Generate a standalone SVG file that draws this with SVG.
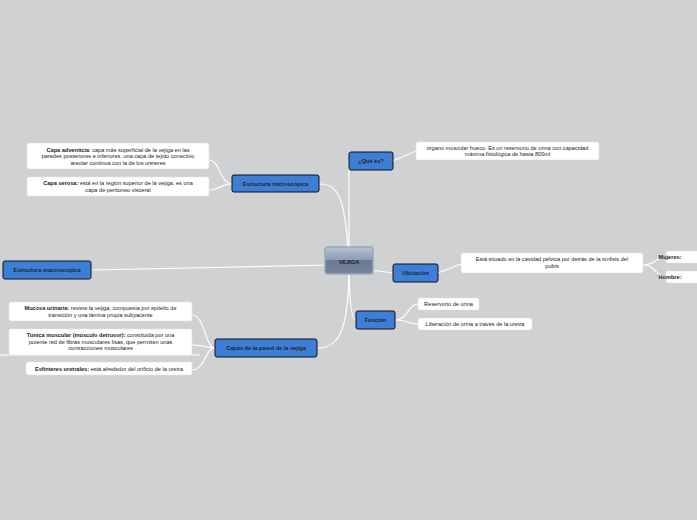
<svg xmlns="http://www.w3.org/2000/svg" width="697" height="520" viewBox="0 0 697 520">
<style>
.t{font-family:"Liberation Sans",Arial,sans-serif;font-size:5.6px;fill:#222;text-anchor:middle}
.b{font-weight:bold}
.tp{fill:#3d7fd6;stroke:#111;stroke-width:1}
.lf{fill:#fff;stroke:#e4e4e4;stroke-width:0.6}
.c{fill:none;stroke:#fff;stroke-width:1.2}
</style>
<defs>
<linearGradient id="g" x1="0" y1="0" x2="0" y2="1">
<stop offset="0" stop-color="#b4c4d8"/><stop offset="0.5" stop-color="#8a9bb2"/><stop offset="0.5" stop-color="#6a7a8f"/><stop offset="1" stop-color="#76869b"/>
</linearGradient>
</defs>
<rect width="697" height="520" fill="#d0d1d3"/>
<g id="connectors">
<path class="c" d="M349 260 C349 200 349 161 349 161"/>
<path class="c" d="M393 161 L416 151"/>
<path class="c" d="M349 260 C345 200 340 184 319 184"/>
<path class="c" d="M232 184 C220 184 220 160 209 160 M232 184 C220 184 220 190 209 190"/>
<path class="c" d="M330 265 L91 270"/>
<path class="c" d="M349 262 C349 330 340 348 317 348"/>
<path class="c" d="M215 348 C205 348 205 315 192 315 M215 348 C205 348 205 345 192 345 M215 348 C205 348 205 370 192 370"/>
<path class="c" d="M0 355 L200 355"/>
<path class="c" d="M370 270 L393 273"/>
<path class="c" d="M438 273 L461 264"/>
<path class="c" d="M643 265 C656 265 656 257 666 257 M643 265 C656 265 656 277 666 277"/>
<path class="c" d="M349 262 C349 305 352 320 356 320"/>
<path class="c" d="M395 320 C408 320 408 304 418 304 M395 320 C408 320 408 324 418 324"/>
</g>
<g id="vejiga"><rect x="325" y="247" width="48" height="27" rx="3" fill="url(#g)" stroke="#9aa8b8" stroke-width="1.5"/><text class="t b" x="349" y="263.5" font-size="7" fill="#2a3340">VEJIGA</text></g>
<g id="que"><rect class="tp" x="349" y="152" width="44" height="18" rx="2"/><text class="t b" x="371" y="163">¿Qué es?</text></g>
<g id="micro"><rect class="tp" x="232" y="175" width="87" height="17" rx="2"/><text class="t b" x="275.5" y="185.5">Estructura microscópica</text></g>
<g id="macro"><rect class="tp" x="3" y="261" width="88" height="18" rx="2"/><text class="t b" x="47" y="272">Estructura macroscopica</text></g>
<g id="capas"><rect class="tp" x="215" y="339" width="102" height="18" rx="2"/><text class="t b" x="266" y="350">Capas de la pared de la vejiga</text></g>
<g id="ubic"><rect class="tp" x="393" y="264" width="45" height="18" rx="2"/><text class="t b" x="415.5" y="275">Ubicación</text></g>
<g id="func"><rect class="tp" x="356" y="311" width="39" height="18" rx="2"/><text class="t b" x="375.5" y="322">Función</text></g>
<g id="adv"><rect class="lf" x="27" y="143" width="182" height="26" rx="2"/><text class="t" x="118" y="151.5"><tspan class="b">Capa adventicia</tspan>: capa más superficial de la vejiga en las</text><text class="t" x="118" y="158">paredes posteriores e inferiores. una capa de tejido conectivo</text><text class="t" x="118" y="164.5">areolar continua con la de los uréteres</text></g>
<g id="serosa"><rect class="lf" x="27" y="177" width="182" height="19" rx="2"/><text class="t" x="118" y="185"><tspan class="b">Capa serosa:</tspan> está en la región superior de la vejiga, es una</text><text class="t" x="118" y="191.5">capa de peritoneo visceral</text></g>
<g id="organo"><rect class="lf" x="416" y="142" width="183" height="18" rx="2"/><text class="t" x="507.5" y="149.5">órgano muscular hueco. Es un reservorio de orina con capacidad</text><text class="t" x="507.5" y="156">máxima fisiológica de hasta 800ml</text></g>
<g id="situado"><rect class="lf" x="461" y="253" width="182" height="20" rx="2"/><text class="t" x="552" y="261">Está situado en la cavidad pélvica por detrás de la sínfisis del</text><text class="t" x="552" y="267.5">pubis</text></g>
<g id="mujeres"><rect class="lf" x="666" y="251" width="35" height="12" rx="2"/><text class="t b" x="670" y="259" text-anchor="start">Mujeres: </text></g>
<g id="hombre"><rect class="lf" x="666" y="271" width="35" height="12" rx="2"/><text class="t b" x="670" y="279" text-anchor="start">Hombre: </text></g>
<g id="reserv"><rect class="lf" x="418" y="298" width="61" height="12" rx="2"/><text class="t" x="448.5" y="306">Reservorio de orina</text></g>
<g id="libera"><rect class="lf" x="418" y="318" width="114" height="12" rx="2"/><text class="t" x="475" y="326">Liberación de orina a través de la uretra</text></g>
<g id="mucosa"><rect class="lf" x="9" y="302" width="183" height="19" rx="2"/><text class="t" x="100.5" y="310"><tspan class="b">Mucosa urinaria:</tspan> reviste la vejiga, compuesta por epitelio de</text><text class="t" x="100.5" y="316.5">transición y una lámina propia subyacente</text></g>
<g id="tunica"><rect class="lf" x="9" y="329" width="183" height="26" rx="2"/><text class="t" x="100.5" y="337"><tspan class="b">Túnica muscular (músculo detrusor):</tspan> constituida por una</text><text class="t" x="100.5" y="343.5">potente red de fibras musculares lisas, que permiten unas</text><text class="t" x="100.5" y="350">contracciones musculares</text></g>
<g id="esfinter"><rect class="lf" x="26" y="362" width="166" height="13" rx="2"/><text class="t" x="109" y="370.5"><tspan class="b">Esfínteres uretrales:</tspan> está alrededor del orificio de la uretra</text></g>
</svg>
